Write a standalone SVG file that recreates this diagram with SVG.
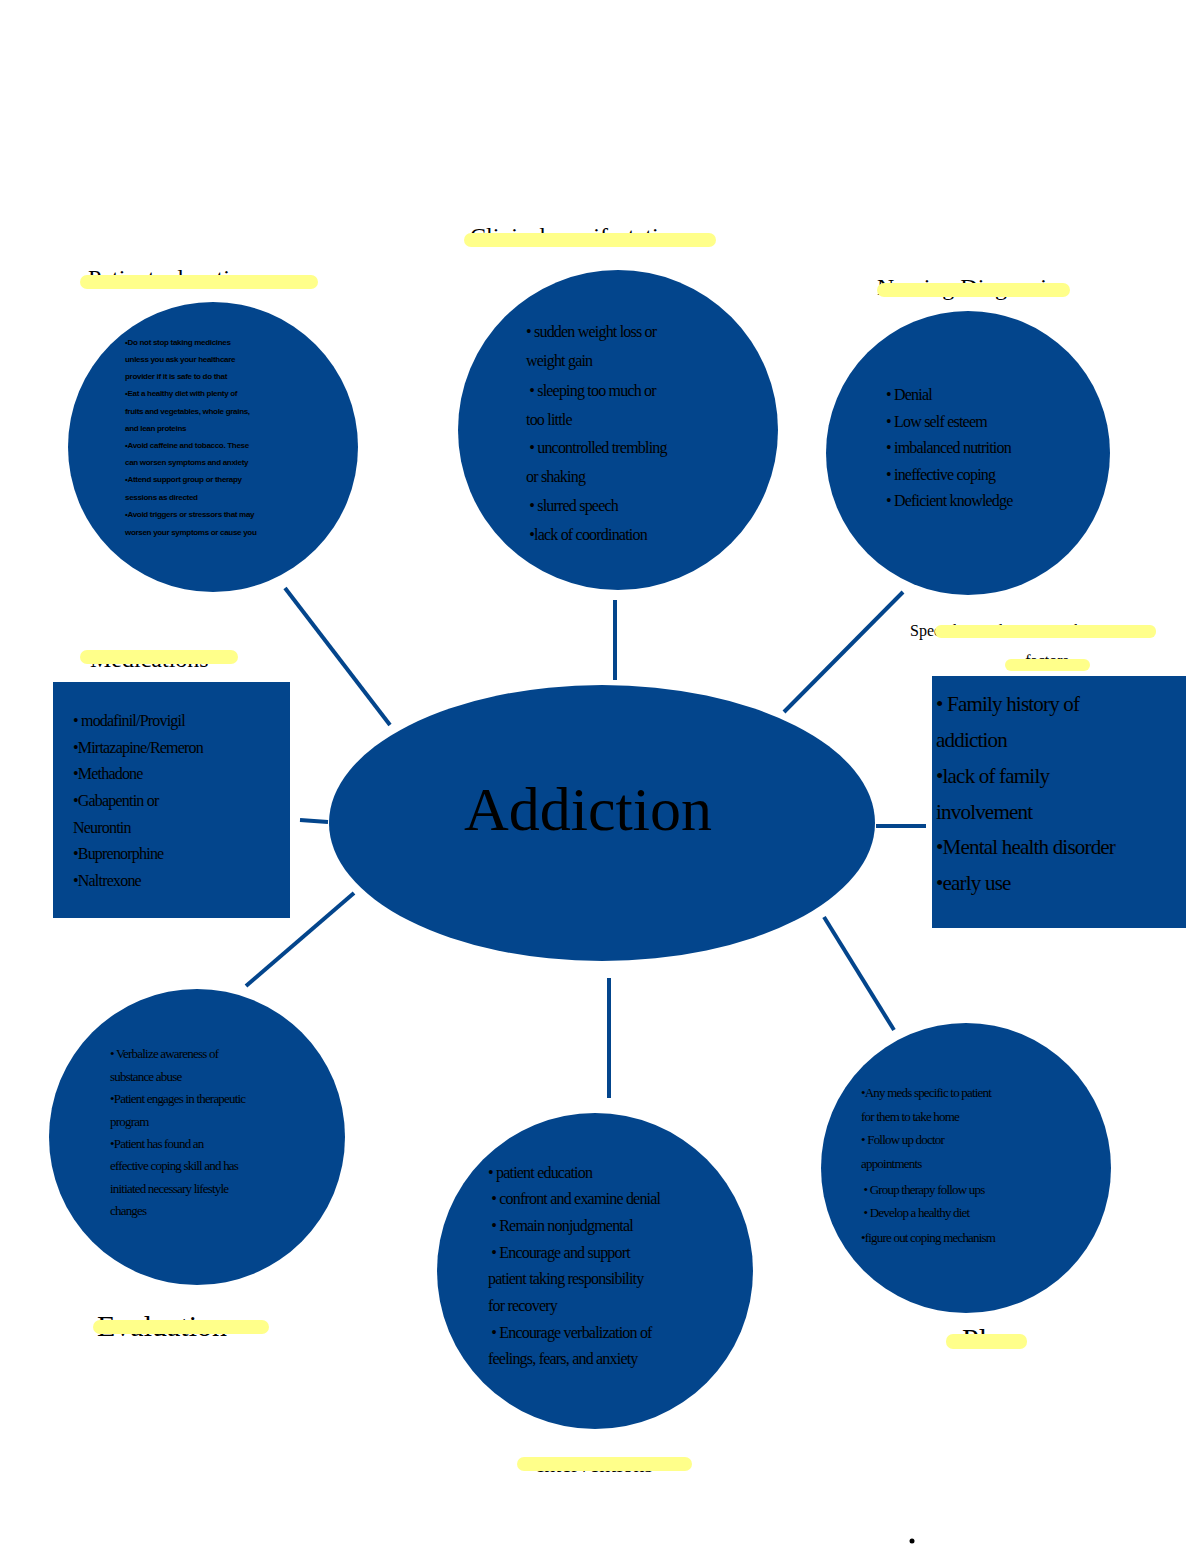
<svg xmlns="http://www.w3.org/2000/svg" width="1200" height="1549" viewBox="0 0 1200 1549">
<style>
.n{fill:#03458c}
.c line{stroke:#03458c;stroke-width:4}
text{font-family:"Liberation Serif",serif;fill:#000}
.t{font-size:16px;letter-spacing:-0.8px}
.s{font-size:13px;letter-spacing:-0.8px}
.x{font-size:8px;font-weight:bold;font-family:"Liberation Sans",sans-serif;letter-spacing:-0.3px}
.r{font-size:21px;letter-spacing:-0.8px}
.lab{font-size:24px}
.h{fill:#ffff8a}
</style>
<rect width="1200" height="1549" fill="#fff"/>
<g class="c">
<line x1="285" y1="588" x2="390" y2="725"/>
<line x1="615" y1="600" x2="615" y2="680"/>
<line x1="903" y1="592" x2="784" y2="712"/>
<line x1="300" y1="820" x2="328" y2="822"/>
<line x1="876" y1="826" x2="926" y2="826"/>
<line x1="354" y1="893" x2="246" y2="986"/>
<line x1="609" y1="978" x2="609" y2="1098"/>
<line x1="824" y1="917" x2="894" y2="1030"/>
</g>
<g id="center"><ellipse class="n" cx="602" cy="823" rx="273" ry="138"/><text x="588" y="830" font-size="62" text-anchor="middle">Addiction</text></g>
<g id="patient-education">
<text x="88" y="286" class="lab">Patient education</text><rect class="h" x="80" y="275" width="238" height="14" rx="7"/>
<circle class="n" cx="213" cy="447" r="145"/>
<text class="x"><tspan x="125" y="345">•Do not stop taking medicines</tspan><tspan x="125" y="362">unless you ask your healthcare</tspan><tspan x="125" y="379">provider if it is safe to do that</tspan><tspan x="125" y="396">•Eat a healthy diet with plenty of</tspan><tspan x="125" y="414">fruits and vegetables, whole grains,</tspan><tspan x="125" y="431">and lean proteins</tspan><tspan x="125" y="448">•Avoid caffeine and tobacco. These</tspan><tspan x="125" y="465">can worsen symptoms and anxiety</tspan><tspan x="125" y="482">•Attend support group or therapy</tspan><tspan x="125" y="500">sessions as directed</tspan><tspan x="125" y="517">•Avoid triggers or stressors that may</tspan><tspan x="125" y="535">worsen your symptoms or cause you</tspan></text>
</g>
<g id="clinical">
<text x="470" y="244" class="lab">Clinical manifestations</text><rect class="h" x="464" y="233" width="252" height="14" rx="7"/>
<circle class="n" cx="618" cy="430" r="160"/>
<text class="t"><tspan x="526" y="337">• sudden weight loss or</tspan><tspan x="526" y="366">weight gain</tspan><tspan x="526" y="396"> • sleeping too much or</tspan><tspan x="526" y="425">too little</tspan><tspan x="526" y="453"> • uncontrolled trembling</tspan><tspan x="526" y="482">or shaking</tspan><tspan x="526" y="511"> • slurred speech</tspan><tspan x="526" y="540"> •lack of coordination</tspan></text>
</g>
<g id="nursing">
<text x="877" y="295" class="lab">Nursing Diagnosis</text><rect class="h" x="877" y="283" width="193" height="14" rx="7"/>
<circle class="n" cx="968" cy="453" r="142"/>
<text class="t"><tspan x="886" y="400">• Denial</tspan><tspan x="886" y="427">• Low self esteem</tspan><tspan x="886" y="453">• imbalanced nutrition</tspan><tspan x="886" y="480">• ineffective coping</tspan><tspan x="886" y="506">• Deficient knowledge</tspan></text>
</g>
<g id="risk">
<text x="910" y="636" font-size="16">Special considerations/risk</text><rect class="h" x="935" y="625" width="221" height="13" rx="6"/>
<text x="1047" y="666" font-size="16" text-anchor="middle">factors</text><rect class="h" x="1005" y="659" width="85" height="12" rx="6"/>
<rect class="n" x="932" y="676" width="254" height="252"/>
<text class="r"><tspan x="936" y="711">• Family history of</tspan><tspan x="936" y="747">addiction</tspan><tspan x="936" y="783">•lack of family</tspan><tspan x="936" y="819">involvement</tspan><tspan x="936" y="854">•Mental health disorder</tspan><tspan x="936" y="890">•early use</tspan></text>
</g>
<g id="medications">
<text x="90" y="667" class="lab">Medications</text><rect class="h" x="80" y="650" width="158" height="14" rx="7"/>
<rect class="n" x="53" y="682" width="237" height="236"/>
<text class="t"><tspan x="73" y="726">• modafinil/Provigil</tspan><tspan x="73" y="753">•Mirtazapine/Remeron</tspan><tspan x="73" y="779">•Methadone</tspan><tspan x="73" y="806">•Gabapentin or</tspan><tspan x="73" y="833">Neurontin</tspan><tspan x="73" y="859">•Buprenorphine</tspan><tspan x="73" y="886">•Naltrexone</tspan></text>
</g>
<g id="evaluation">
<circle class="n" cx="197" cy="1137" r="148"/>
<text class="s"><tspan x="110" y="1058">• Verbalize awareness of</tspan><tspan x="110" y="1081">substance abuse</tspan><tspan x="110" y="1103">•Patient engages in therapeutic</tspan><tspan x="110" y="1126">program</tspan><tspan x="110" y="1148">•Patient has found an</tspan><tspan x="110" y="1170">effective coping skill and has</tspan><tspan x="110" y="1193">initiated necessary lifestyle</tspan><tspan x="110" y="1215">changes</tspan></text>
<text x="97" y="1336" font-size="30">Evaluation</text><rect class="h" x="93" y="1320" width="176" height="14" rx="7"/>
</g>
<g id="interventions">
<circle class="n" cx="595" cy="1271" r="158"/>
<text class="t"><tspan x="488" y="1178"> • patient education</tspan><tspan x="488" y="1204"> • confront and examine denial</tspan><tspan x="488" y="1231"> • Remain nonjudgmental</tspan><tspan x="488" y="1258"> • Encourage and support</tspan><tspan x="488" y="1284">patient taking responsibility</tspan><tspan x="488" y="1311">for recovery</tspan><tspan x="488" y="1338">  • Encourage verbalization of</tspan><tspan x="488" y="1364">feelings, fears, and anxiety</tspan></text>
<text x="537" y="1472" font-size="22">Interventions</text><rect class="h" x="517" y="1457" width="175" height="14" rx="7"/>
</g>
<g id="plan">
<circle class="n" cx="966" cy="1168" r="145"/>
<text class="s"><tspan x="861" y="1097">•Any meds specific to patient</tspan><tspan x="861" y="1121">for them to take home</tspan><tspan x="861" y="1144">• Follow up doctor</tspan><tspan x="861" y="1168">appointments</tspan><tspan x="861" y="1194"> • Group therapy follow ups</tspan><tspan x="861" y="1217"> • Develop a healthy diet</tspan><tspan x="861" y="1242">•figure out coping mechanism</tspan></text>
<text x="962" y="1349" font-size="30">Plan</text><rect class="h" x="946" y="1334" width="81" height="15" rx="7"/>
</g>
<circle cx="912" cy="1541" r="2.5" fill="#000"/>
</svg>
